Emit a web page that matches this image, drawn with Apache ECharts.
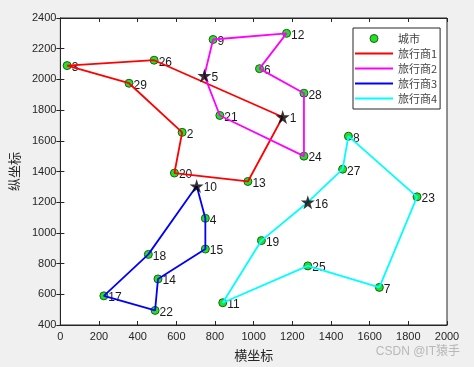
<!DOCTYPE html>
<html>
<head>
<meta charset="utf-8">
<script src="https://cdn.jsdelivr.net/npm/echarts@6/dist/echarts.min.js"></script>
<style>
html,body{margin:0;padding:0;background:#f0f0f0;}
#c{width:474px;height:367px;}
</style>
</head>
<body>
<div id="c"></div>
<script>
// City ids and coordinates
const cityId = [1,2,3,4,5,6,7,8,9,10,11,12,13,14,15,16,17,18,19,20,21,22,23,24,25,26,27,28,29];
const cityX  = [1150,630,35,750,745,1030,1650,1490,790,705,840,1170,970,505,750,1280,225,455,1040,590,825,490,1845,1260,1280,485,1460,1260,355];
const cityY  = [1755,1655,2090,1095,2025,2070,645,1630,2260,1305,545,2300,1335,700,895,1200,590,860,950,1390,1765,495,1235,1500,785,2125,1415,1910,1975];
// Depots (start cities, drawn as stars)
const depots = [1,5,10,16];
// Routes of each salesman
const route1 = [1,13,20,2,29,3,26,1];
const route2 = [5,9,12,6,28,24,21,5];
const route3 = [10,4,15,14,22,17,18,10];
const route4 = [16,27,8,23,7,25,11,19,16];
const routeNames = ['旅行商1','旅行商2','旅行商3','旅行商4'];
const routeColors = ['#ff0000','#ff00ff','#0000ff','#00ffff'];
const xTicks = [0,200,400,600,800,1000,1200,1400,1600,1800,2000];
const yTicks = [400,600,800,1000,1200,1400,1600,1800,2000,2200,2400];

const pt = id => { const i = cityId.indexOf(id); return [cityX[i], cityY[i], id]; };
const routes = [route1, route2, route3, route4];

const axisCol = '#262626';
const labelFont = {fontFamily:'Liberation Sans, Arial, sans-serif', fontSize:11, color:axisCol};

function xAx(pos, show){
  return {type:'value', position:pos, min:xTicks[0], max:xTicks[xTicks.length-1], interval:200,
    axisLine:{show:true, lineStyle:{color:axisCol,width:1}},
    axisTick:{show:true, inside:true, length:4, lineStyle:{color:axisCol}},
    axisLabel:Object.assign({show:show, margin:6, formatter: v => String(v)}, labelFont),
    splitLine:{show:false},
    name: show ? '横坐标' : '', nameLocation:'middle', nameGap:24,
    nameTextStyle:{fontFamily:'Noto Sans CJK SC', fontSize:13, color:axisCol}};
}
function yAx(pos, show){
  return {type:'value', position:pos, min:yTicks[0], max:yTicks[yTicks.length-1], interval:200,
    axisLine:{show:true, lineStyle:{color:axisCol,width:1}},
    axisTick:{show:true, inside:true, length:4, lineStyle:{color:axisCol}},
    axisLabel:Object.assign({show:show, margin:4, formatter: v => String(v)}, labelFont),
    splitLine:{show:false},
    name: show ? '纵坐标' : '', nameLocation:'middle', nameGap:35, nameRotate:90,
    nameTextStyle:{fontFamily:'Noto Sans CJK SC', fontSize:13, color:axisCol}};
}

const numLabel = {show:true, position:'right', distance:0, offset:[0,2],
  formatter: p => String(p.value[2]), fontFamily:'Liberation Sans, Arial, sans-serif', fontSize:12,
  color:'#1a1a1a', opacity:1, textBorderWidth:0};

const starPath = 'path://M50,0 L61.2,34.5 L97.6,34.5 L68.2,55.9 L79.4,90.5 L50,69.1 L20.6,90.5 L31.8,55.9 L2.4,34.5 L38.8,34.5 Z';
const lineIcon = 'path://M0,0 L100,0 L100,5 L0,5 Z';

const series = [];
series.push({name:'城市', type:'scatter', z:2, symbol:'circle', symbolSize:8,
  itemStyle:{color:'#22e022', borderColor:'#1f5f1f', borderWidth:1, opacity:1},
  label:numLabel, emphasis:{disabled:true},
  data: cityId.filter(id => depots.indexOf(id) < 0).map(pt)});
routes.forEach((r,k) => {
  series.push({name:routeNames[k], type:'line', z:3, symbol:'none', showSymbol:false,
    lineStyle:{color:routeColors[k], width:1.8}, itemStyle:{color:routeColors[k]},
    emphasis:{disabled:true}, data: r.map(pt)});
});
series.push({name:'起点', type:'scatter', z:4, symbol:starPath, symbolSize:14,
  itemStyle:{color:'#000'}, label:numLabel, emphasis:{disabled:true}, data: depots.map(pt)});

const chart = echarts.init(document.getElementById('c'), null, {renderer:'canvas'});
chart.setOption({
  animation:false,
  backgroundColor:'#f0f0f0',
  grid:{left:57, top:18, right:27, bottom:42, show:true, backgroundColor:'#fff', borderColor:axisCol, borderWidth:1},
  xAxis:[xAx('bottom', true), xAx('top', false)],
  yAxis:[yAx('left', true), yAx('right', false)],
  legend:{orient:'vertical', left:353, top:28, padding:[3,3,3,2], itemWidth:38, itemHeight:8, itemGap:0,
    backgroundColor:'#fff', borderColor:axisCol, borderWidth:1, borderRadius:0,
    textStyle:{fontFamily:'Noto Sans CJK SC', fontSize:11, color:'#444', lineHeight:15},
    data:[{name:'城市', icon:'circle', itemStyle:{borderColor:'#1f5f1f', borderWidth:1}}].concat(
      routeNames.map(n => ({name:n, icon:lineIcon})))},
  graphic:[{type:'text', right:14, top:346, style:{text:'CSDN @IT猿手', fill:'#b8b8b8', font:'12px "Liberation Sans", "Noto Sans CJK SC", sans-serif'}}],
  series: series
});
</script>
</body>
</html>
